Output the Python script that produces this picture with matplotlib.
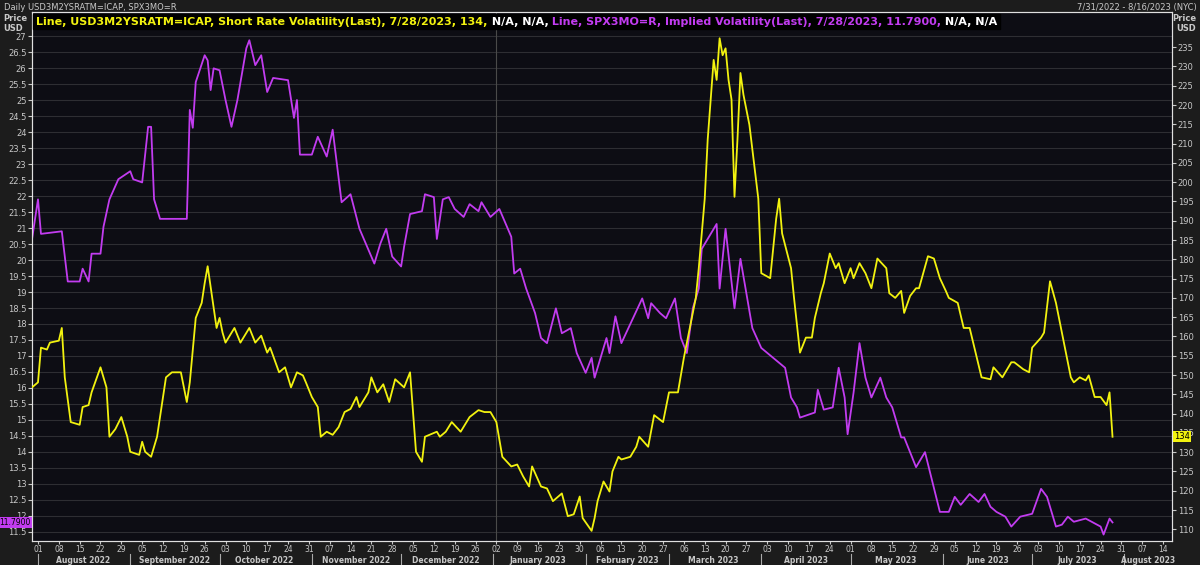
import numpy as np
import matplotlib.pyplot as plt
import matplotlib.dates as mdates
from matplotlib.offsetbox import TextArea, HPacker, AnchoredOffsetbox
from matplotlib.transforms import blended_transform_factory

# day offsets from 2022-08-01 and values
spx_days = [-2, 0, 1, 8, 10, 14, 15, 17, 18, 21, 22, 24, 27, 31, 32, 35, 37, 38, 39, 41, 50, 51, 52, 53,
            56, 57, 58, 59, 61, 63, 65, 67, 70, 71, 73, 75, 77, 79, 84, 86, 87, 88, 92, 94, 97, 99, 102,
            105, 108, 113, 115, 117, 119, 122, 123, 125, 129, 130, 133, 134, 136, 138, 140, 143, 145, 148,
            149, 152, 155, 159, 160, 162, 164, 167, 169, 171, 174, 176, 179, 181, 184, 186, 187, 191, 192,
            194, 196, 203, 205, 206, 209, 211, 214, 216, 218, 220, 222, 223, 228, 229, 231, 234, 236, 238,
            240, 243, 247, 251, 253, 255, 256, 261, 262, 264, 267, 269, 271, 272, 274, 276, 278, 280, 283,
            285, 287, 290, 291, 295, 298, 303, 306, 308, 310, 313, 316, 318, 320, 322, 325, 327, 330, 334,
            337, 339, 342, 344, 346, 348, 352, 354, 357, 358, 360, 361]
spx_vol = [20.66, 21.9, 20.82, 20.9, 19.33, 19.33, 19.73, 19.33, 20.2, 20.2, 21.04, 21.9, 22.53, 22.78,
           22.53, 22.43, 24.17, 24.17, 21.9, 21.29, 21.29, 24.7, 24.14, 25.57, 26.41, 26.25, 25.32, 26.0,
           25.94, 25.01, 24.17, 25.01, 26.63, 26.88, 26.1, 26.41, 25.26, 25.7, 25.63, 24.45, 25.01, 23.3,
           23.3, 23.86, 23.24, 24.08, 21.81, 22.06, 20.98, 19.89, 20.51, 20.98, 20.11, 19.8, 20.42, 21.44,
           21.53, 22.06, 21.97, 20.66, 21.9, 21.97, 21.6, 21.35, 21.75, 21.53, 21.81, 21.35, 21.6, 20.73,
           19.58, 19.73, 19.11, 18.34, 17.56, 17.4, 18.49, 17.71, 17.87, 17.09, 16.47, 16.94, 16.32, 17.56,
           17.09, 18.24, 17.4, 18.8, 18.18, 18.65, 18.34, 18.18, 18.8, 17.56, 17.09, 18.49, 19.11, 20.35,
           21.13, 19.11, 20.98, 18.49, 20.04, 18.96, 17.87, 17.25, 16.94, 16.63, 15.7, 15.39, 15.07, 15.23,
           15.94, 15.32, 15.39, 16.63, 15.7, 14.55, 15.85, 17.4, 16.32, 15.7, 16.32, 15.7, 15.39, 14.45,
           14.45, 13.52, 13.99, 12.12, 12.12, 12.59, 12.34, 12.68, 12.43, 12.68, 12.28, 12.12, 11.97, 11.66,
           11.97, 12.06, 12.84, 12.59, 11.66, 11.72, 11.97, 11.81, 11.91, 11.81, 11.66, 11.41, 11.91, 11.79]

rate_days = [-2, 0, 1, 3, 4, 7, 8, 9, 11, 14, 15, 17, 18, 21, 23, 24, 26, 28, 30, 31, 34, 35, 36, 38, 40,
             41, 43, 45, 48, 50, 51, 53, 55, 56, 57, 59, 60, 61, 62, 63, 66, 68, 71, 73, 75, 77, 78, 81,
             83, 85, 87, 89, 90, 92, 94, 95, 97, 99, 101, 103, 105, 107, 108, 111, 112, 114, 116, 118, 120,
             123, 125, 127, 129, 130, 134, 135, 137, 139, 142, 145, 148, 150, 152, 154, 156, 159, 161, 163,
             165, 166, 169, 171, 173, 176, 178, 180, 182, 183, 186, 187, 188, 190, 192, 193, 195, 196, 199,
             201, 202, 205, 207, 210, 212, 215, 217, 219, 221, 222, 224, 225, 227, 228, 229, 230, 231, 232,
             233, 234, 235, 236, 237, 239, 240, 242, 243, 246, 248, 249, 250, 253, 254, 256, 258, 260, 261,
             263, 264, 266, 268, 269, 271, 273, 274, 276, 278, 280, 282, 285, 286, 288, 290, 291, 293, 295,
             296, 299, 301, 303, 305, 306, 309, 311, 313, 315, 317, 320, 321, 324, 327, 328, 331, 333, 334,
             337, 338, 340, 342, 343, 345, 347, 348, 350, 352, 353, 355, 357, 359, 360, 361]
rate_vol = [146.8, 148.1, 157.1, 156.6, 158.4, 158.9, 162.2, 149.4, 137.8, 137.1, 141.7, 142.2, 145.5,
            152.0, 146.8, 134.0, 136.0, 139.1, 134.0, 130.1, 129.3, 132.7, 130.1, 128.8, 134.0, 139.1,
            149.4, 150.7, 150.7, 143.0, 148.1, 164.8, 168.7, 173.8, 178.2, 167.4, 162.2, 164.8, 161.0,
            158.4, 162.2, 158.4, 162.2, 158.4, 160.2, 155.8, 157.1, 150.7, 152.0, 146.8, 150.7, 149.9,
            148.1, 144.3, 141.7, 134.0, 135.3, 134.5, 136.5, 140.4, 141.2, 144.3, 141.7, 145.5, 149.4,
            145.5, 147.6, 143.0, 148.9, 146.8, 150.7, 130.1, 127.5, 134.0, 135.3, 134.0, 135.3, 137.8,
            135.3, 139.1, 140.9, 140.4, 140.4, 137.8, 128.8, 126.3, 126.8, 123.7, 121.1, 126.3, 121.1,
            120.6, 117.3, 119.3, 113.4, 113.9, 118.5, 112.9, 109.6, 112.9, 117.3, 122.4, 119.8, 125.0,
            128.8, 128.1, 128.8, 131.4, 134.0, 131.4, 139.6, 137.8, 145.5, 145.5, 154.5, 162.2, 170.0,
            177.7, 195.7, 211.1, 231.7, 226.5, 237.3, 232.9, 234.7, 226.5, 221.4, 196.2, 211.1, 228.3,
            222.7, 214.9, 208.5, 195.7, 176.4, 175.1, 190.5, 195.7, 186.7, 177.7, 170.0, 155.8, 159.7,
            159.7, 164.8, 171.2, 173.8, 181.5, 177.7, 179.0, 173.8, 177.7, 175.1, 179.0, 176.4, 172.5,
            180.2, 177.7, 171.2, 170.0, 171.8, 166.1, 170.5, 172.5, 172.5, 180.8, 180.2, 175.1, 171.8,
            170.0, 168.7, 162.2, 162.2, 155.8, 149.4, 148.9, 152.0, 149.4, 153.3, 153.3, 151.5, 150.7,
            157.1, 159.7, 161.0, 174.3, 168.7, 164.8, 157.1, 149.4, 148.1, 149.4, 148.6, 149.9, 144.3,
            144.3, 142.2, 145.5, 134.0]

base = np.datetime64('2022-08-01')
spx_dates = base + np.array(spx_days).astype('timedelta64[D]')
rate_dates = base + np.array(rate_days).astype('timedelta64[D]')

BG = '#1c1c1c'
PLOT_BG = '#0d0d14'
YELLOW = '#f2f20f'
PURPLE = '#c23cf0'
TXT = '#c8c8c8'

fig = plt.figure(figsize=(12, 5.65), dpi=100, facecolor=BG)
ax = fig.add_axes([0.0267, 0.042, 0.95, 0.936], facecolor=PLOT_BG)
ax2 = ax.twinx()

ax.plot(spx_dates, spx_vol, color=PURPLE, lw=1.3, zorder=3)
ax2.plot(rate_dates, rate_vol, color=YELLOW, lw=1.3, zorder=3)

ax.set_xlim(base - np.timedelta64(2, 'D'), base + np.timedelta64(381, 'D'))
ax.set_ylim(11.2, 27.75)
ax2.set_ylim(106.9, 244)

ax.set_yticks(np.arange(11.5, 27.01, 0.5))
ax.set_yticklabels([('%g' % v) for v in np.arange(11.5, 27.01, 0.5)])
ax2.set_yticks(np.arange(110, 236, 5))
for a in (ax, ax2):
    a.tick_params(axis='y', colors=TXT, labelsize=6, length=3, pad=1)
    for s in a.spines.values():
        s.set_color('#e0e0e0')
ax.grid(axis='y', color='#2e2e33', lw=0.8)
ax.axvline(np.datetime64('2023-01-02'), color='#4a4a4a', lw=0.8)

# weekly day ticks + month names below
ax.xaxis.set_major_locator(mdates.WeekdayLocator(byweekday=mdates.MO))
ax.xaxis.set_major_formatter(mdates.DateFormatter('%d'))
ax.tick_params(axis='x', colors=TXT, labelsize=5.5, length=2.5, pad=0.5)
tr = blended_transform_factory(ax.transData, ax.transAxes)
months = ['August 2022', 'September 2022', 'October 2022', 'November 2022', 'December 2022',
          'January 2023', 'February 2023', 'March 2023', 'April 2023', 'May 2023', 'June 2023',
          'July 2023', 'August 2023']
starts = np.arange('2022-08', '2023-10', dtype='datetime64[M]').astype('datetime64[D]')
for i, m in enumerate(months):
    a, b = starts[i], min(starts[i + 1], base + np.timedelta64(381, 'D'))
    mid = a + (b - a) // 2
    ax.text(mid, -0.037, m, transform=tr, color=TXT, fontsize=5.5, fontweight='bold',
            ha='center', va='center', clip_on=False)
    ax.plot([a, a], [-0.024, -0.046], transform=tr, color='#aaaaaa', lw=0.8, clip_on=False)

# header
fig.text(0.003, 0.995, 'Daily USD3M2YSRATM=ICAP, SPX3MO=R', color=TXT, fontsize=6, va='top')
fig.text(0.997, 0.995, '7/31/2022 - 8/16/2023 (NYC)', color=TXT, fontsize=6, va='top', ha='right')
fig.text(0.003, 0.958, 'Price\nUSD', color=TXT, fontsize=6, va='center', ha='left', fontweight='bold')
fig.text(0.997, 0.958, 'Price\nUSD', color=TXT, fontsize=6, va='center', ha='right', fontweight='bold')

parts = [('Line, USD3M2YSRATM=ICAP, Short Rate Volatility(Last), 7/28/2023, 134,', YELLOW),
         (' N/A, N/A,', 'white'),
         (' Line, SPX3MO=R, Implied Volatility(Last), 7/28/2023, 11.7900,', PURPLE),
         (' N/A, N/A', 'white')]
boxes = [TextArea(t, textprops=dict(color=c, fontsize=8, fontweight='bold')) for t, c in parts]
pack = HPacker(children=boxes, pad=0, sep=0)
anch = AnchoredOffsetbox(loc='upper left', child=pack, pad=0.2, borderpad=0.1, frameon=True)
anch.patch.set_facecolor('black')
anch.patch.set_edgecolor('black')
ax2.add_artist(anch)

# last value tags
ax2.text(1.002, 134, '134', transform=blended_transform_factory(ax2.transAxes, ax2.transData),
         color='black', fontsize=6, va='center', ha='left',
         bbox=dict(boxstyle='square,pad=0.15', fc=YELLOW, ec='none'), clip_on=False, zorder=5)
ax.text(-0.001, 11.79, '11.7900', transform=blended_transform_factory(ax.transAxes, ax.transData),
        color='black', fontsize=5.5, va='center', ha='right',
        bbox=dict(boxstyle='square,pad=0.15', fc=PURPLE, ec='none'), clip_on=False, zorder=5)

fig.savefig('out.png', dpi=100, facecolor=BG)
